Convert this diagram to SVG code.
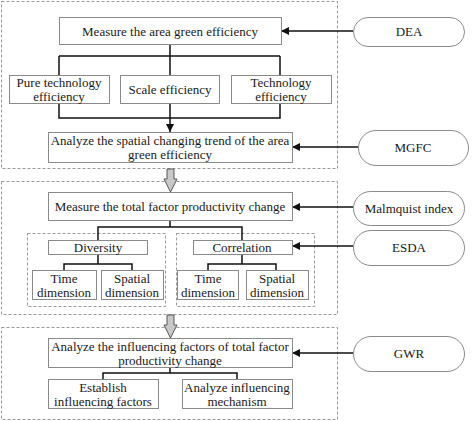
<svg xmlns="http://www.w3.org/2000/svg" width="474" height="421" viewBox="0 0 474 421">
<defs>
<marker id="ah" viewBox="0 0 10 10" refX="10" refY="5" markerWidth="10" markerHeight="8" markerUnits="userSpaceOnUse" orient="auto">
<path d="M0,0 L10,5 L0,10 z" fill="#111"/>
</marker>
<style>
.stage{fill:none;stroke:#999;stroke-width:1;stroke-dasharray:3,2}
.box{fill:#fff;stroke:#8a8a8a;stroke-width:1}
.pill{fill:#fff;stroke:#8a8a8a;stroke-width:1}
.t{font-family:"Liberation Serif","Times New Roman",serif;font-size:13px;fill:#1a1a1a;text-anchor:middle}
.ln{fill:none;stroke:#111;stroke-width:1.5}
.big{fill:#c8c8c8;stroke:#555;stroke-width:1}
</style>
</defs>
<rect width="474" height="421" fill="#fff"/>

<g id="stages">
<rect class="stage" x="1.5" y="1.5" width="336" height="167"/>
<rect class="stage" x="1.5" y="181.5" width="336" height="133"/>
<rect class="stage" x="1.5" y="327.5" width="336" height="92"/>
<rect class="stage" x="27.5" y="233.5" width="138" height="73"/>
<rect class="stage" x="176.5" y="233.5" width="138" height="73"/>
</g>

<g id="connectors">
<path class="ln" d="M170,44 V56 M59,56 H280 M59,56 V75 M170,56 V75 M280,56 V75"/>
<path class="ln" d="M59,103 V118 H280 V103"/>
<path class="ln" d="M170,103 V132" marker-end="url(#ah)"/>
<path class="ln" d="M353,31 H281" marker-end="url(#ah)"/>
<path class="ln" d="M358,147 H292" marker-end="url(#ah)"/>
<path class="ln" d="M353,207 H292" marker-end="url(#ah)"/>
<path class="ln" d="M353,246 H292" marker-end="url(#ah)"/>
<path class="ln" d="M353,353 H292" marker-end="url(#ah)"/>
<path class="ln" d="M170,220 V227 M98,240 V227 H242 V240"/>
<path class="ln" d="M98,254 V264 M64,270 V264 H132 V270"/>
<path class="ln" d="M242,254 V264 M208,270 V264 H276 V270"/>
<path class="ln" d="M170,367 V373 M103,379 V373 H237 V379"/>
<path class="big" d="M167,169 H174 V179 H177 L170.5,192 L164,179 H167 Z"/>
<path class="big" d="M167,315 H174 V325 H177 L170.5,338 L164,325 H167 Z"/>
</g>

<g id="n-measure-green"><rect class="box" x="59.5" y="17.5" width="222" height="27"/><text class="t" x="170" y="35.5">Measure the area green efficiency</text></g>
<g id="n-pure"><rect class="box" x="9.5" y="75.5" width="100" height="28"/><text class="t" x="59" y="87">Pure technology</text><text class="t" x="59" y="101">efficiency</text></g>
<g id="n-scale"><rect class="box" x="120.5" y="75.5" width="99" height="28"/><text class="t" x="170" y="94">Scale efficiency</text></g>
<g id="n-tech"><rect class="box" x="231.5" y="75.5" width="100" height="28"/><text class="t" x="281" y="87">Technology</text><text class="t" x="281" y="101">efficiency</text></g>
<g id="n-analyze-trend"><rect class="box" x="48.5" y="132.5" width="244" height="30"/><text class="t" x="170" y="144.5">Analyze the spatial changing trend of the area</text><text class="t" x="170" y="159">green efficiency</text></g>
<g id="n-dea"><rect class="pill" x="353.5" y="17.5" width="111" height="29" rx="14.5"/><text class="t" x="409" y="36">DEA</text></g>
<g id="n-mgfc"><rect class="pill" x="358.5" y="130.5" width="110" height="35" rx="17.5"/><text class="t" x="413" y="152">MGFC</text></g>

<g id="n-measure-tfp"><rect class="box" x="48.5" y="192.5" width="244" height="28"/><text class="t" x="170" y="211">Measure the total factor productivity change</text></g>
<g id="n-malmquist"><rect class="pill" x="353.5" y="191.5" width="111" height="34" rx="17"/><text class="t" x="409" y="212.5">Malmquist index</text></g>
<g id="n-esda"><rect class="pill" x="353.5" y="230.5" width="111" height="35" rx="17.5"/><text class="t" x="409" y="252">ESDA</text></g>
<g id="n-diversity"><rect class="box" x="48.5" y="240.5" width="99" height="14"/><text class="t" x="98" y="251.5">Diversity</text></g>
<g id="n-correlation"><rect class="box" x="193.5" y="240.5" width="99" height="14"/><text class="t" x="242" y="251.5">Correlation</text></g>
<g id="n-time1"><rect class="box" x="32.5" y="270.5" width="64" height="29"/><text class="t" x="64" y="282.5">Time</text><text class="t" x="64" y="296.5">dimension</text></g>
<g id="n-spatial1"><rect class="box" x="101.5" y="270.5" width="62" height="29"/><text class="t" x="132" y="282.5">Spatial</text><text class="t" x="132" y="296.5">dimension</text></g>
<g id="n-time2"><rect class="box" x="177.5" y="270.5" width="61" height="29"/><text class="t" x="208" y="282.5">Time</text><text class="t" x="208" y="296.5">dimension</text></g>
<g id="n-spatial2"><rect class="box" x="246.5" y="270.5" width="62" height="29"/><text class="t" x="277" y="282.5">Spatial</text><text class="t" x="277" y="296.5">dimension</text></g>

<g id="n-analyze-factors"><rect class="box" x="48.5" y="338.5" width="244" height="29"/><text class="t" x="170" y="350.5">Analyze the influencing factors of total factor</text><text class="t" x="170" y="364.5">productivity change</text></g>
<g id="n-gwr"><rect class="pill" x="353.5" y="336.5" width="111" height="35" rx="17.5"/><text class="t" x="409" y="358">GWR</text></g>
<g id="n-establish"><rect class="box" x="48.5" y="379.5" width="110" height="29"/><text class="t" x="103" y="391.5">Establish</text><text class="t" x="103" y="405.5">influencing factors</text></g>
<g id="n-mechanism"><rect class="box" x="182.5" y="379.5" width="110" height="29"/><text class="t" x="237" y="391.5">Analyze influencing</text><text class="t" x="237" y="405.5">mechanism</text></g>
</svg>
